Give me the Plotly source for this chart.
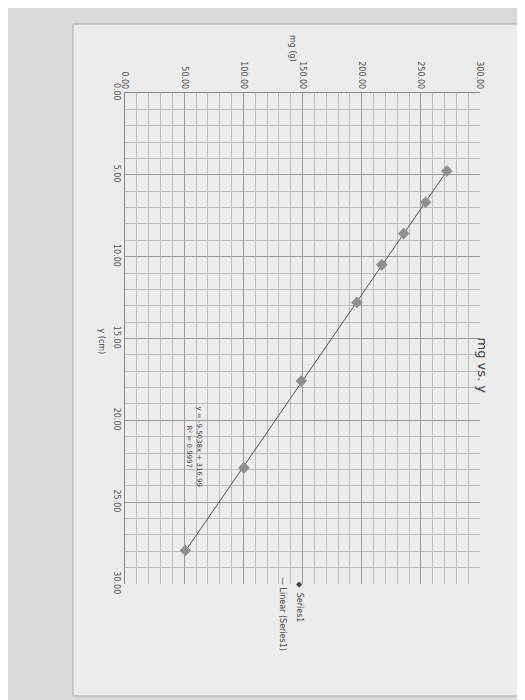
import numpy as np
import plotly.graph_objects as go

y_cm = [4.77, 6.68, 8.59, 10.5, 12.8, 17.6, 22.9, 27.95]
mg_g = [272.0, 254.0, 235.5, 217.0, 196.0, 149.0, 100.5, 51.0]
mg_ticks = [0, 50, 100, 150, 200, 250, 300]
y_ticks = [0, 5, 10, 15, 20, 25, 30]

slope, icpt = np.polyfit(y_cm, mg_g, 1)
fit_y = [min(y_cm), max(y_cm)]
fit_mg = [slope * v + icpt for v in fit_y]

L, R, T, B = 117, 472, 85, 576
W, H = 525, 700
def px(x): return (x - L) / (R - L)
def py(y): return (B - y) / (B - T)

fig = go.Figure()
fig.add_trace(go.Scatter(x=fit_mg, y=fit_y, mode="lines",
                         line=dict(color="#555555", width=1), showlegend=False))
fig.add_trace(go.Scatter(x=mg_g, y=y_cm, mode="markers",
                         marker=dict(symbol="diamond", size=9, color="#8f8f8f"),
                         showlegend=False))

tf = dict(family="DejaVu Sans", size=8, color="#555555")
fig.update_layout(
    width=W, height=H, margin=dict(l=L, r=W - R, t=T, b=H - B),
    paper_bgcolor="#d9d9d9", plot_bgcolor="#f2f2f2",
    xaxis=dict(range=[0, 300], side="top", tickvals=mg_ticks, tickformat=".2f",
               tickangle=90, tickfont=tf, gridcolor="#9a9a9a", gridwidth=1,
               minor=dict(dtick=10, gridcolor="#bdbdbd", showgrid=True),
               showline=True, linecolor="#888888", zeroline=False, mirror=False),
    yaxis=dict(range=[30, 0], tickvals=y_ticks, tickformat=".2f",
               tickangle=90, tickfont=tf, gridcolor="#9a9a9a", gridwidth=1,
               minor=dict(dtick=1, gridcolor="#bdbdbd", showgrid=True),
               showline=True, linecolor="#888888", zeroline=False),
)
fig.add_shape(type="rect", xref="paper", yref="paper",
              x0=px(65), x1=px(514), y0=py(688), y1=py(16),
              fillcolor="#ececec", line=dict(color="#aaaaaa", width=1), layer="below")

def ann(x, y, text, size=8, **kw):
    fig.add_annotation(xref="paper", yref="paper", x=px(x), y=py(y), text=text,
                       textangle=90, showarrow=False,
                       font=dict(family="DejaVu Sans", size=size, color="#444444"), **kw)

ann(484, 357, "mg vs. y", size=13)
ann(284, 40, "mg (g)", size=8, yanchor="middle", xanchor="center")
ann(87, 333, "y (cm)", size=8)
ann(291, 616, "◆  Series1", size=8)
ann(275, 645, "— Linear (Series1)", size=8)
ann(176, 480, "y = -9.5038x + 316.99<br>R² = 0.9997", size=7)

fig.write_html("out.html")
